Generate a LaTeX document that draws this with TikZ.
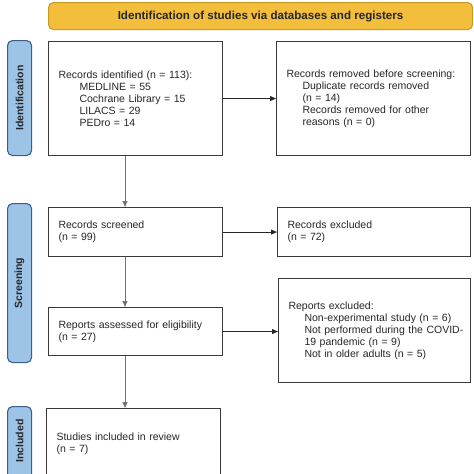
\documentclass[tikz,border=0pt]{standalone}
\usepackage{fontspec}
\setmainfont{Liberation Sans}
\usetikzlibrary{arrows.meta,calc}
\definecolor{hdrfill}{HTML}{F3BE3C}
\definecolor{hdrdraw}{HTML}{C99A22}
\definecolor{sidefill}{HTML}{9DC3E6}
\definecolor{sidedraw}{HTML}{3A5F8F}
\definecolor{boxdraw}{HTML}{3A3A3A}
\definecolor{txt}{HTML}{262626}
\tikzset{
  boxtxt/.style={font=\fontsize{10.5}{12.1}\selectfont, text=txt},
  flowbox/.style={boxtxt, draw=boxdraw, line width=1.1pt, rectangle, anchor=north west,
    align=left, inner xsep=10pt, inner ysep=0pt, fill=white},
  sidelbl/.style={draw=sidedraw, fill=sidefill, line width=1.1pt, rounded corners=5pt,
    rectangle, anchor=north west, minimum width=24pt, inner sep=0pt},
  sidetxt/.style={font=\fontsize{10.5}{12}\selectfont\bfseries, text=txt, rotate=90},
  hdr/.style={draw=hdrdraw, fill=hdrfill, line width=1.1pt, rounded corners=5pt,
    rectangle, anchor=north west, minimum width=424pt, minimum height=27pt,
    font=\fontsize{11.6}{13}\selectfont\bfseries, text=txt},
  hflow/.style={draw=black!85, line width=0.8pt, -{Triangle[length=6pt,width=5pt]}},
  vflow/.style={draw=gray!90!black, line width=0.8pt, -{Triangle[length=6pt,width=5pt]}},
}
\begin{document}
\begin{tikzpicture}[x=1pt,y=-1pt]
\useasboundingbox (0,0) rectangle (474,474);
\begin{scope}
\clip (0,0) rectangle (474,474);
% header
\node[hdr] (hd) at (48,2) {Identification of studies via databases and registers};
% side labels
\node[sidelbl, minimum height=115pt] (s1) at (7,40) {};
\node[sidetxt] (s1t) at (s1.center) {Identification};
\node[sidelbl, minimum height=159pt] (s2) at (7,203) {};
\node[sidetxt] (s2t) at (s2.center) {Screening};
\node[sidelbl, minimum height=90pt] (s3) at (7,406) {};
\node[sidetxt] (s3t) at ($(s3.north)+(0,35)$) {Included};
% boxes
\node[flowbox, minimum width=174pt, minimum height=114pt, text width=154pt] (b1) at (48,41)
  {Records identified (n = 113):\\
   \hspace*{21pt}MEDLINE = 55\\
   \hspace*{21pt}Cochrane Library = 15\\
   \hspace*{21pt}LILACS = 29\\
   \hspace*{21pt}PEDro = 14};
\node[flowbox, minimum width=194pt, minimum height=114pt, text width=174pt] (b2) at (276,41)
  {Records removed before screening:\\
   \hspace*{16pt}Duplicate records removed\\
   \hspace*{16pt}(n = 14)\\
   \hspace*{16pt}Records removed for other\\
   \hspace*{16pt}reasons (n = 0)};
\node[flowbox, minimum width=174pt, minimum height=49pt, text width=154pt] (b3) at (48,207)
  {Records screened\\(n = 99)};
\node[flowbox, minimum width=193pt, minimum height=49pt, text width=173pt] (b3x) at (277,207)
  {Records excluded\\(n = 72)};
\node[flowbox, minimum width=174pt, minimum height=48pt, text width=154pt] (b4) at (48,307)
  {Reports assessed for eligibility\\(n = 27)};
\node[flowbox, minimum width=192pt, minimum height=104pt, text width=172pt] (b4x) at (278,278)
  {Reports excluded:\\
   \hspace*{16pt}\mbox{Non-experimental study (n = 6)}\\
   \hspace*{16pt}\mbox{Not performed during the COVID-}\\
   \hspace*{16pt}\mbox{19 pandemic (n = 9)}\\
   \hspace*{16pt}\mbox{Not in older adults (n = 5)}};
\node[flowbox, minimum width=174pt, minimum height=70pt, text width=154pt] (b5) at (46,408)
  {Studies included in review\\(n = 7)};
% connectors
\coordinate (col) at (125,0);
\draw[hflow] (b1.east) -- (b2.west);
\draw[hflow] (b3.east) -- (b3.east -| b3x.west);
\draw[hflow] (b4.east) -- (b4.east -| b4x.west);
\draw[vflow] (b1.south -| col) -- (b3.north -| col);
\draw[vflow] (b3.south -| col) -- (b4.north -| col);
\draw[vflow] (b4.south -| col) -- (b5.north -| col);
\end{scope}
\end{tikzpicture}
\end{document}
